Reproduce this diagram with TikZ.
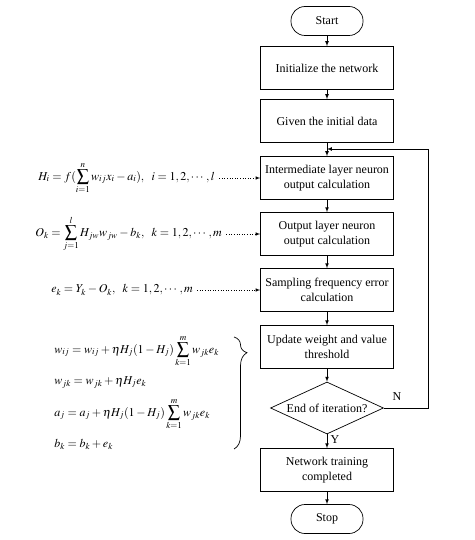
\documentclass[tikz,border=0pt]{standalone}
\usepackage{amsmath}
\usepackage{mathptmx}
\usepackage{fontspec}
\setmainfont{Liberation Serif}
\usetikzlibrary{shapes.geometric, decorations.pathreplacing}

\tikzset{
    procbox/.style={draw, line width=0.7pt, minimum width=133pt, minimum height=43pt, align=center, font=\fontsize{12}{14.5}\selectfont},
    termbox/.style={draw, line width=0.7pt, rounded corners=14pt, minimum width=72pt, minimum height=29pt, font=\fontsize{12}{14.5}\selectfont},
    decbox/.style={draw, line width=0.7pt, diamond, aspect=2.2, inner sep=0.5pt, minimum width=113pt, minimum height=52pt, font=\fontsize{12}{14.5}\selectfont},
    formula/.style={anchor=west, inner sep=1pt, font=\fontsize{12}{14}\selectfont},
    hint/.style={dotted, line width=0.6pt, ->}
}

\begin{document}
\begin{tikzpicture}[x=1pt, y=-1pt, >=latex, line width=0.7pt]
    % 画布范围
    \useasboundingbox (0,0) rectangle (474,540);

    % 流程图主体
    \node[termbox] (start) at (327,21) {Start};
    \node[procbox] (init) at (327,68) {Initialize the network};
    \node[procbox] (given) at (327,121) {Given the initial data};
    \node[procbox] (inter) at (327,178) {Intermediate layer neuron\\output calculation};
    \node[procbox] (outl) at (327,234) {Output layer neuron\\output calculation};
    \node[procbox] (samp) at (327,290) {Sampling frequency error\\calculation};
    \node[procbox] (upd) at (327,347) {Update weight and value\\threshold};
    \node[decbox] (iter) at (327,408) {End of iteration?};
    \node[procbox] (done) at (327,470) {Network training\\completed};
    \node[termbox] (stop) at (327,519) {Stop};

    % 连接箭头
    \draw[->] (start) -- (init);
    \draw[->] (init) -- (given);
    \draw[->] (given) -- (inter);
    \draw[->] (inter) -- (outl);
    \draw[->] (outl) -- (samp);
    \draw[->] (samp) -- (upd);
    \draw[->] (upd) -- (iter);
    \draw[->] (iter) -- node[right, pos=0.35, font=\fontsize{12}{14}\selectfont] {Y} (done);
    \draw[->] (done) -- (stop);

    % 回路
    \coordinate (loop) at (428,149);
    \coordinate (join) at (327,149);
    \draw[->] (iter.east) -- (iter.east -| loop) -- (loop) -- (join);
    \node[font=\fontsize{12}{14}\selectfont] (nlab) at (397,397) {N};

    % 左侧公式
    \node[formula] (hform) at (37,178) {$H_i = f(\displaystyle\sum_{i=1}^{n} w_{ij}x_i - a_i),\ \ i=1,2,\cdots,l$};
    \node[formula] (oform) at (34,234) {$O_k = \displaystyle\sum_{j=1}^{l} H_{jw}w_{jw} - b_k,\ \ k=1,2,\cdots,m$};
    \node[formula] (eform) at (50,290) {$e_k = Y_k - O_k,\ \ k=1,2,\cdots,m$};
    \draw[hint] ([xshift=3pt]hform.east) -- (inter.west);
    \draw[hint] ([xshift=3pt]oform.east) -- (outl.west);
    \draw[hint] ([xshift=3pt]eform.east) -- (samp.west);

    % 权值更新公式
    \node[formula, anchor=base west] (wij) at (53,353) {$w_{ij} = w_{ij} + \eta H_j(1-H_j)\displaystyle\sum_{k=1}^{m} w_{jk}e_k$};
    \node[formula, anchor=base west] (wjk) at (53,384) {$w_{jk} = w_{jk} + \eta H_j e_k$};
    \node[formula, anchor=base west] (aj) at (53,416) {$a_j = a_j + \eta H_j(1-H_j)\displaystyle\sum_{k=1}^{m} w_{jk}e_k$};
    \node[formula, anchor=base west] (bk) at (53,447) {$b_k = b_k + e_k$};
    \draw[decorate, decoration={brace, amplitude=13pt, aspect=0.14}] (234,337) -- (234,449);

\end{tikzpicture}
\end{document}
